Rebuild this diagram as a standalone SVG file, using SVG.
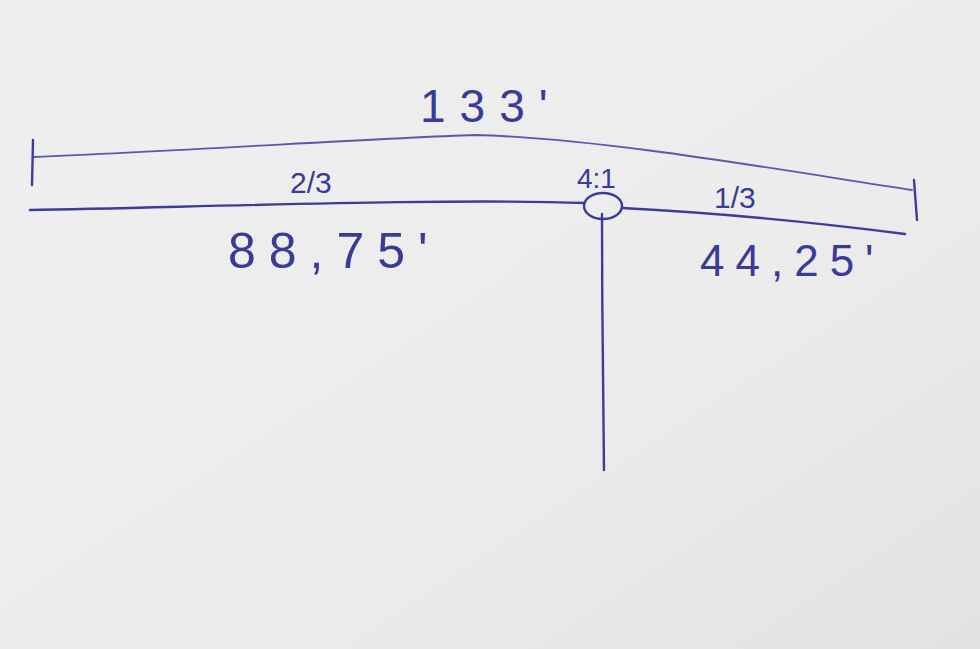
<svg xmlns="http://www.w3.org/2000/svg" width="980" height="649" viewBox="0 0 980 649">
<defs>
<linearGradient id="paper" x1="0" y1="0" x2="1" y2="1">
<stop offset="0" stop-color="#efefef"/>
<stop offset="0.6" stop-color="#ececec"/>
<stop offset="1" stop-color="#e2e2e4"/>
</linearGradient>
</defs>
<style>
.ink{fill:none;stroke:#3c3c9c;stroke-width:2.4;stroke-linecap:round;stroke-linejoin:round}
.thin{stroke-width:1.8;stroke:#5858b0}
.lbl{font-family:"Liberation Sans",Arial,sans-serif;fill:#3a3a98;font-weight:normal}
</style>
<rect width="980" height="649" fill="url(#paper)"/>
<g id="connectors">
<path class="ink thin" d="M33,157 C200,150 380,138 475,135 C600,138 780,170 912,190"/>
<path class="ink" d="M33,140 L32,185"/>
<path class="ink" d="M914,180 L917,220"/>
<path class="ink" d="M30,210 C200,207 450,198 585,203"/>
<path class="ink" d="M622,208 C720,213 820,223 905,234"/>
<path class="ink" d="M602,214 C602,300 603,400 604,470"/>
</g>
<g id="node-junction">
<ellipse class="ink" cx="603" cy="206" rx="19" ry="13"/>
</g>
<g id="label-total"><text class="lbl" x="420" y="122" font-size="46" letter-spacing="14">133'</text></g>
<g id="label-left-ratio"><text class="lbl" x="290" y="193" font-size="30">2/3</text></g>
<g id="label-junction"><text class="lbl" x="577" y="188" font-size="28">4:1</text></g>
<g id="label-right-ratio"><text class="lbl" x="714" y="208" font-size="30">1/3</text></g>
<g id="label-left-len"><text class="lbl" x="228" y="268" font-size="50" letter-spacing="13">88,75'</text></g>
<g id="label-right-len"><text class="lbl" x="700" y="276" font-size="44" letter-spacing="11">44,25'</text></g>
</svg>
